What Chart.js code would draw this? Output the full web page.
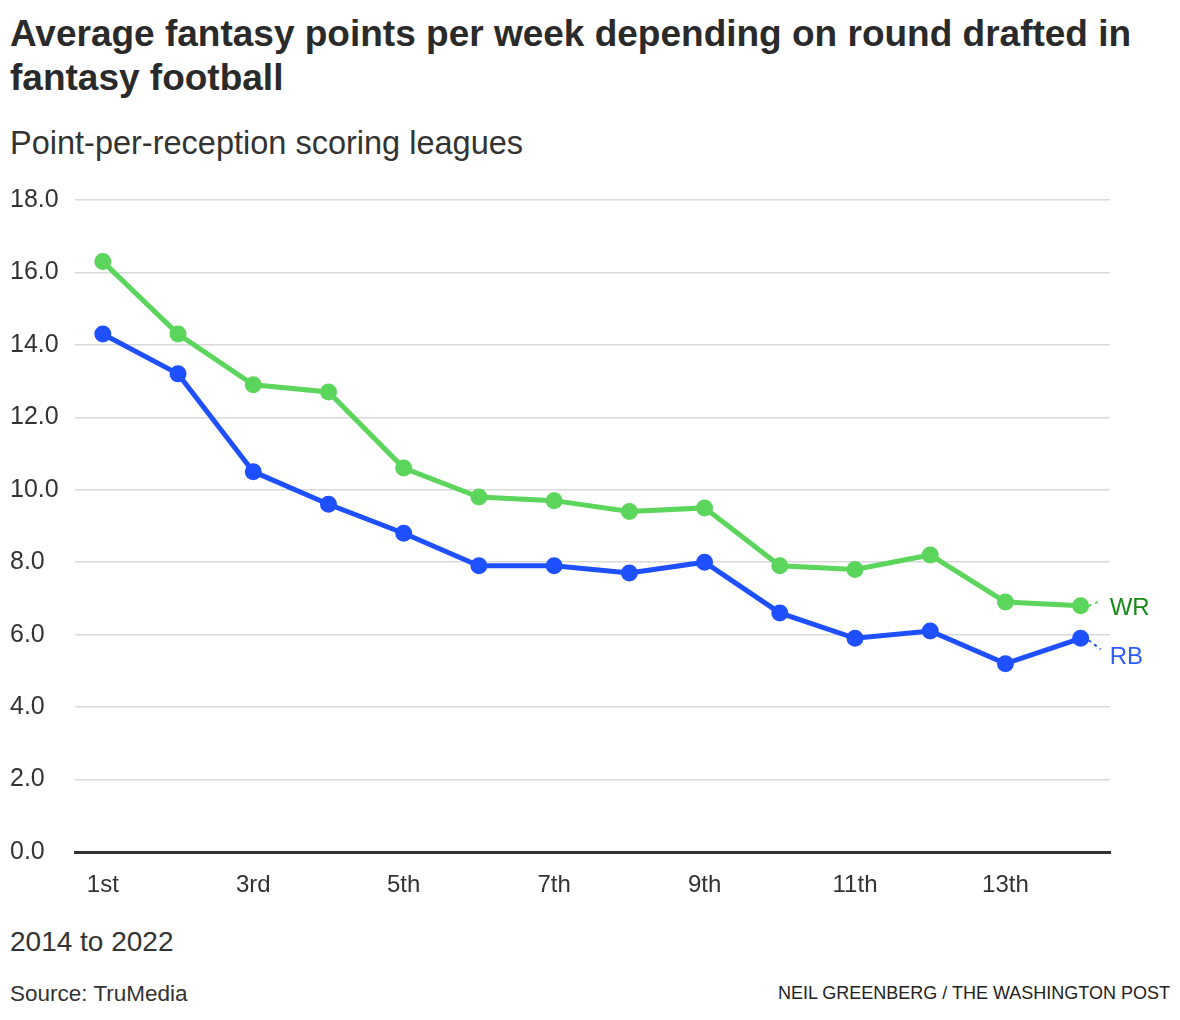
<!DOCTYPE html>
<html>
<head>
<meta charset="utf-8">
<script src="https://cdn.jsdelivr.net/npm/chart.js@4.4.1/dist/chart.umd.min.js"></script>
<style>
  html, body { margin: 0; padding: 0; background: #fff; }
  body { width: 1180px; height: 1020px; position: relative; overflow: hidden; font-family: "Liberation Sans", Arial, sans-serif; color: #2a2a2a; }
  .title { position: absolute; left: 10px; top: 12px; width: 1160px; font-size: 37px; line-height: 44px; font-weight: bold; color: #2a2a2a; }
  .subtitle { position: absolute; left: 10px; top: 125px; font-size: 32.5px; color: #333; }
  .note { position: absolute; left: 10px; top: 926px; font-size: 28px; color: #333; }
  .source { position: absolute; left: 10px; top: 981px; font-size: 22.5px; color: #333; }
  .credit { position: absolute; right: 10px; top: 983px; font-size: 18px; color: #222; }
  .wrap { position: absolute; left: 0; top: 175px; width: 1180px; height: 727px; }
</style>
</head>
<body>
<div class="title">Average fantasy points per week depending on round drafted in<br>fantasy football</div>
<div class="subtitle">Point-per-reception scoring leagues</div>
<div class="wrap"><canvas id="chart"></canvas></div>
<div class="note">2014 to 2022</div>
<div class="source">Source: TruMedia</div>
<div class="credit">NEIL GREENBERG / THE WASHINGTON POST</div>

<script>
// Draft rounds 1..14
const rounds = [1, 2, 3, 4, 5, 6, 7, 8, 9, 10, 11, 12, 13, 14];

// Average points per week
const wrPoints = [16.3, 14.3, 12.9, 12.7, 10.6, 9.8, 9.7, 9.4, 9.5, 7.9, 7.8, 8.2, 6.9, 6.8];
const rbPoints = [14.3, 13.2, 10.5, 9.6, 8.8, 7.9, 7.9, 7.7, 8.0, 6.6, 5.9, 6.1, 5.2, 5.9];

// x-axis ticks
const xTickValues = [1, 3, 5, 7, 9, 11, 13];
const xTickLabels = ['1st', '3rd', '5th', '7th', '9th', '11th', '13th'];

// y-axis ticks
const yTickValues = [0, 2, 4, 6, 8, 10, 12, 14, 16, 18];

const WR_COLOR = '#5cd55c';
const RB_COLOR = '#1f50ff';
const FONT = '"Liberation Sans", Arial, sans-serif';

function toXY(values) {
    return values.map((v, i) => ({ x: rounds[i], y: v }));
}

// Draws the dotted leader + series name next to the last point of each line
const endLabels = {
    id: 'endLabels',
    afterDatasetsDraw(chart) {
        const ctx = chart.ctx;
        chart.data.datasets.forEach((ds, i) => {
            const meta = chart.getDatasetMeta(i);
            const last = meta.data[meta.data.length - 1];
            const px = last.x, py = last.y;
            const ty = py + ds.labelOffset;
            ctx.save();
            ctx.strokeStyle = ds.borderColor;
            ctx.lineWidth = 2;
            ctx.setLineDash([3, 4]);
            ctx.beginPath();
            ctx.moveTo(px + 8, py + (ty - py) * 0.1);
            ctx.lineTo(px + 20, ty - 8);
            ctx.stroke();
            ctx.setLineDash([]);
            ctx.fillStyle = ds.labelColor;
            ctx.font = '24px ' + FONT;
            ctx.textBaseline = 'middle';
            ctx.textAlign = 'left';
            ctx.fillText(ds.label, px + 29, ty);
            ctx.restore();
        });
    }
};

new Chart(document.getElementById('chart'), {
    type: 'line',
    data: {
        datasets: [
            {
                label: 'WR',
                data: toXY(wrPoints),
                borderColor: WR_COLOR,
                backgroundColor: WR_COLOR,
                labelColor: '#178a17',
                labelOffset: 3,
                borderWidth: 5,
                pointRadius: 6,
                pointHoverRadius: 6,
                tension: 0
            },
            {
                label: 'RB',
                data: toXY(rbPoints),
                borderColor: RB_COLOR,
                backgroundColor: RB_COLOR,
                labelColor: '#2d5cff',
                labelOffset: 19,
                borderWidth: 5,
                pointRadius: 6,
                pointHoverRadius: 6,
                tension: 0
            }
        ]
    },
    options: {
        responsive: true,
        maintainAspectRatio: false,
        animation: false,
        layout: { padding: { top: 14, right: 70, left: 10, bottom: 0 } },
        plugins: {
            legend: { display: false },
            tooltip: { enabled: false }
        },
        scales: {
            x: {
                type: 'linear',
                min: 0.63,
                max: 14.39,
                afterBuildTicks: (axis) => {
                    axis.ticks = xTickValues.map(v => ({ value: v }));
                },
                afterFit: (axis) => { axis.height = 50; },
                grid: { display: false },
                border: { display: true, color: '#333', width: 3 },
                ticks: {
                    color: '#333',
                    padding: 11,
                    maxRotation: 0,
                    autoSkip: false,
                    font: { family: FONT, size: 24 },
                    callback: (value) => xTickLabels[xTickValues.indexOf(value)]
                }
            },
            y: {
                min: 0,
                max: 18,
                afterBuildTicks: (axis) => {
                    axis.ticks = yTickValues.map(v => ({ value: v }));
                },
                afterFit: (axis) => { axis.width = 65; },
                grid: { color: '#d9d9d9', lineWidth: 1.5, drawTicks: false },
                border: { display: false },
                ticks: {
                    color: '#333',
                    crossAlign: 'far',
                    padding: 10,
                    font: { family: FONT, size: 25 },
                    callback: (value) => value.toFixed(1)
                }
            }
        }
    },
    plugins: [endLabels]
});
</script>
</body>
</html>
